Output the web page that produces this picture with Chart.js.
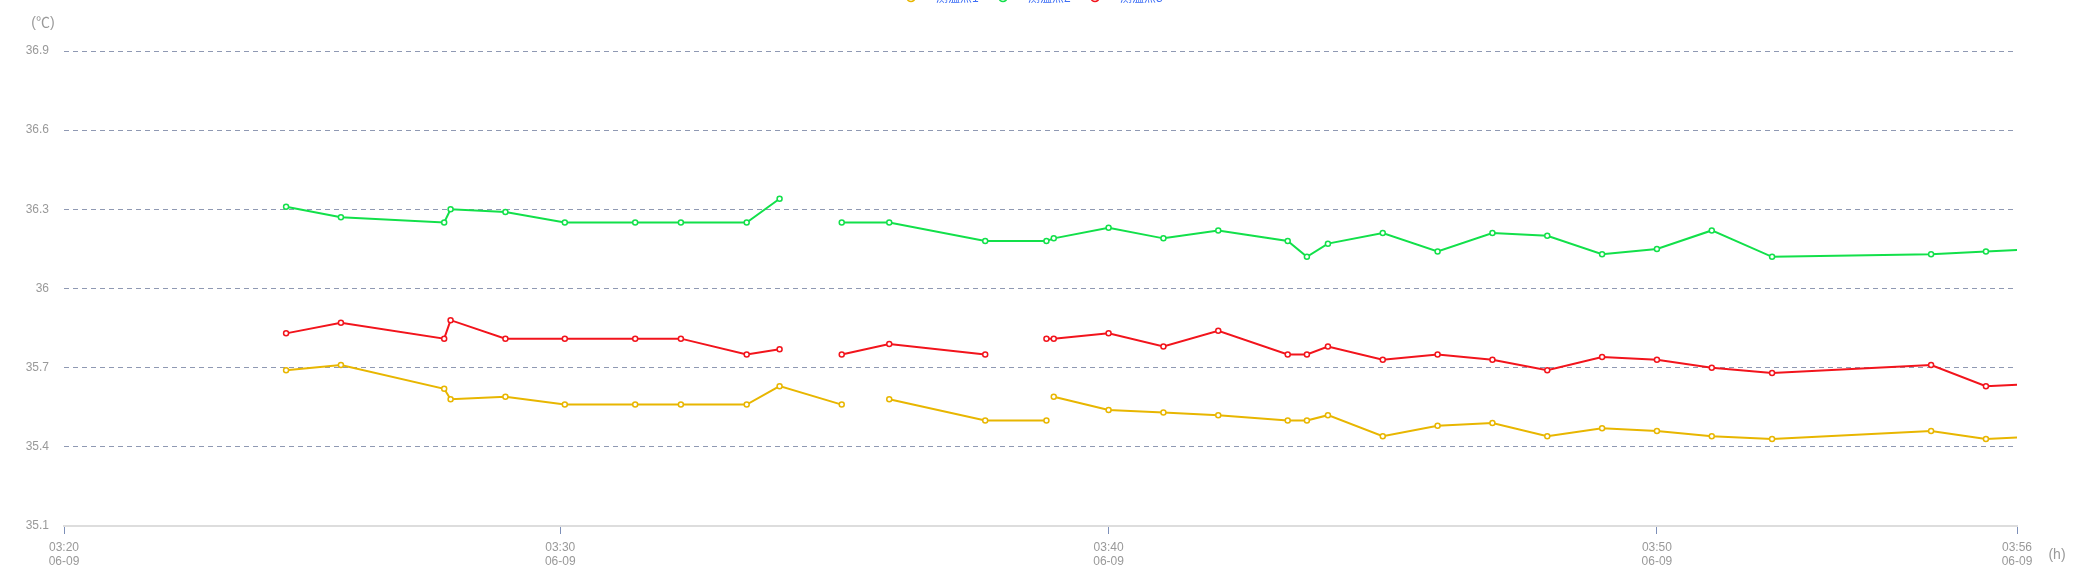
<!DOCTYPE html>
<html><head><meta charset="utf-8">
<script src="https://cdn.jsdelivr.net/npm/chart.js@4.4.1/dist/chart.umd.min.js"></script>
<style>html,body{margin:0;padding:0;background:#fff;overflow:hidden}#wrap{width:2078px;height:580px;position:relative}canvas{display:block}</style>
</head><body><div id="wrap"><canvas id="c" width="2078" height="580"></canvas></div>
<script>
const seriesNames = ["测温点1", "测温点2", "测温点3"];
const seriesColors = ["#e8b600", "#12e04a", "#f2141c"];

const yellowTimes = ["03:25:00","03:26:00","03:27:53","03:28:00","03:29:00","03:30:05","03:31:22","03:32:12","03:33:24","03:34:00","03:35:08","03:35:30","03:36:00","03:37:45","03:38:52","03:38:56","03:39:00","03:40:00","03:41:00","03:42:00","03:43:16","03:43:37","03:44:00","03:45:00","03:46:00","03:47:00","03:48:00","03:49:00","03:50:00","03:51:00","03:52:06","03:55:00","03:56:00","03:57:00"];
const yellowValues = [35.69,35.71,35.62,35.58,35.59,35.56,35.56,35.56,35.56,35.63,35.56,null,35.58,35.50,35.50,null,35.59,35.54,35.53,35.52,35.50,35.50,35.52,35.44,35.48,35.49,35.44,35.47,35.46,35.44,35.43,35.46,35.43,35.44];

const greenTimes = ["03:25:00","03:26:00","03:27:53","03:28:00","03:29:00","03:30:05","03:31:22","03:32:12","03:33:24","03:34:00","03:34:30","03:35:08","03:36:00","03:37:45","03:38:52","03:39:00","03:40:00","03:41:00","03:42:00","03:43:16","03:43:37","03:44:00","03:45:00","03:46:00","03:47:00","03:48:00","03:49:00","03:50:00","03:51:00","03:52:06","03:55:00","03:56:00","03:57:00"];
const greenValues = [36.31,36.27,36.25,36.30,36.29,36.25,36.25,36.25,36.25,36.34,null,36.25,36.25,36.18,36.18,36.19,36.23,36.19,36.22,36.18,36.12,36.17,36.21,36.14,36.21,36.20,36.13,36.15,36.22,36.12,36.13,36.14,36.15];

const redTimes = ["03:25:00","03:26:00","03:27:53","03:28:00","03:29:00","03:30:05","03:31:22","03:32:12","03:33:24","03:34:00","03:34:30","03:35:08","03:36:00","03:37:45","03:38:20","03:38:52","03:39:00","03:40:00","03:41:00","03:42:00","03:43:16","03:43:37","03:44:00","03:45:00","03:46:00","03:47:00","03:48:00","03:49:00","03:50:00","03:51:00","03:52:06","03:55:00","03:56:00","03:57:00"];
const redValues = [35.83,35.87,35.81,35.88,35.81,35.81,35.81,35.81,35.75,35.77,null,35.75,35.79,35.75,null,35.81,35.81,35.83,35.78,35.84,35.75,35.75,35.78,35.73,35.75,35.73,35.69,35.74,35.73,35.70,35.68,35.71,35.63,35.64];

const yTicks = [35.1, 35.4, 35.7, 36.0, 36.3, 36.6, 36.9];
const xAxisMin = "03:20:57";
const xAxisMax = "03:56:34";
const xTickTimes = ["03:30:00", "03:40:00", "03:50:00"];
const dateLabel = "06-09";
const yAxisName = "(℃)";
const xAxisName = "(h)";

function toSec(t) { const p = t.split(":").map(Number); return p[0] * 3600 + p[1] * 60 + p[2]; }
function pad2(n) { return String(n).padStart(2, "0"); }
function fmtHM(sec) { const m = Math.floor(sec / 60); return pad2(Math.floor(m / 60)) + ":" + pad2(m % 60); }
function pts(times, vals) { return times.map((t, i) => ({ x: toSec(t), y: vals[i] })); }

const FONT = '"Microsoft YaHei", "Liberation Sans", "Noto Sans CJK SC", sans-serif';
const allSeries = [[yellowTimes, yellowValues], [greenTimes, greenValues], [redTimes, redValues]];

const datasets = allSeries.map((s, i) => ({
  label: seriesNames[i],
  data: pts(s[0], s[1]),
  borderColor: seriesColors[i],
  backgroundColor: seriesColors[i],
  borderWidth: 2,
  pointRadius: 2.5,
  pointBorderWidth: 1.5,
  pointBackgroundColor: "#fff",
  pointBorderColor: seriesColors[i],
  tension: 0,
  spanGaps: false
}));

const extras = {
  id: "extras",
  afterDraw(chart) {
    const ctx = chart.ctx;
    ctx.save();
    // legend (cut off at top of the image)
    ctx.font = "12px " + FONT;
    ctx.textBaseline = "alphabetic";
    ctx.textAlign = "left";
    chart.data.datasets.forEach((ds, i) => {
      const cx = 911 + i * 92;
      ctx.beginPath();
      ctx.arc(cx, -2.5, 4, 0, Math.PI * 2);
      ctx.fillStyle = "#fff";
      ctx.fill();
      ctx.lineWidth = 1.6;
      ctx.strokeStyle = ds.borderColor;
      ctx.stroke();
      ctx.fillStyle = "#3d6ef5";
      ctx.fillText(ds.label, cx + 25, 1.5);
    });
    // axis names
    ctx.fillStyle = "#999";
    ctx.font = "14px " + FONT;
    ctx.textAlign = "center";
    ctx.textBaseline = "middle";
    ctx.fillText(yAxisName, 43, 23);
    ctx.fillText(xAxisName, 2057, 555);
    ctx.restore();
  }
};

new Chart(document.getElementById("c"), {
  type: "line",
  data: { datasets },
  options: {
    responsive: false,
    animation: false,
    layout: { padding: { left: 0, right: 61, top: 51, bottom: 0 } },
    plugins: { legend: { display: false }, tooltip: { enabled: false } },
    scales: {
      x: {
        type: "linear",
        bounds: "data",
        min: toSec(xAxisMin),
        max: toSec(xAxisMax),
        afterBuildTicks(s) {
          const vals = [toSec(xAxisMin)].concat(xTickTimes.map(toSec), [toSec(xAxisMax)]);
          s.ticks = vals.map(v => ({ value: v }));
        },
        afterFit(s) { s.height = 54; },
        ticks: {
          autoSkip: false, maxRotation: 0, minRotation: 0, padding: 6,
          color: "#999", font: { size: 12, family: FONT, lineHeight: 1.2 },
          callback: (v) => [fmtHM(v), dateLabel]
        },
        grid: { drawOnChartArea: false, drawTicks: true, tickLength: 8, tickColor: "#7d8fb8", tickWidth: 1 },
        border: { display: true, color: "#dddddd", width: 2 }
      },
      y: {
        min: 35.1,
        max: 36.9,
        afterBuildTicks(s) { s.ticks = yTicks.map(v => ({ value: v })); },
        afterFit(s) { s.width = 64; },
        ticks: {
          padding: 15, color: "#999", font: { size: 12, family: FONT },
          callback: (v) => String(Number(Number(v).toFixed(1)))
        },
        grid: {
          drawTicks: false,
          lineWidth: 1,
          color: (c) => (c.tick && c.tick.value < 35.15) ? "rgba(0,0,0,0)" : "#8f99b3"
        },
        border: { display: false, dash: [5, 4] }
      }
    }
  },
  plugins: [extras]
});
</script>
</body></html>
